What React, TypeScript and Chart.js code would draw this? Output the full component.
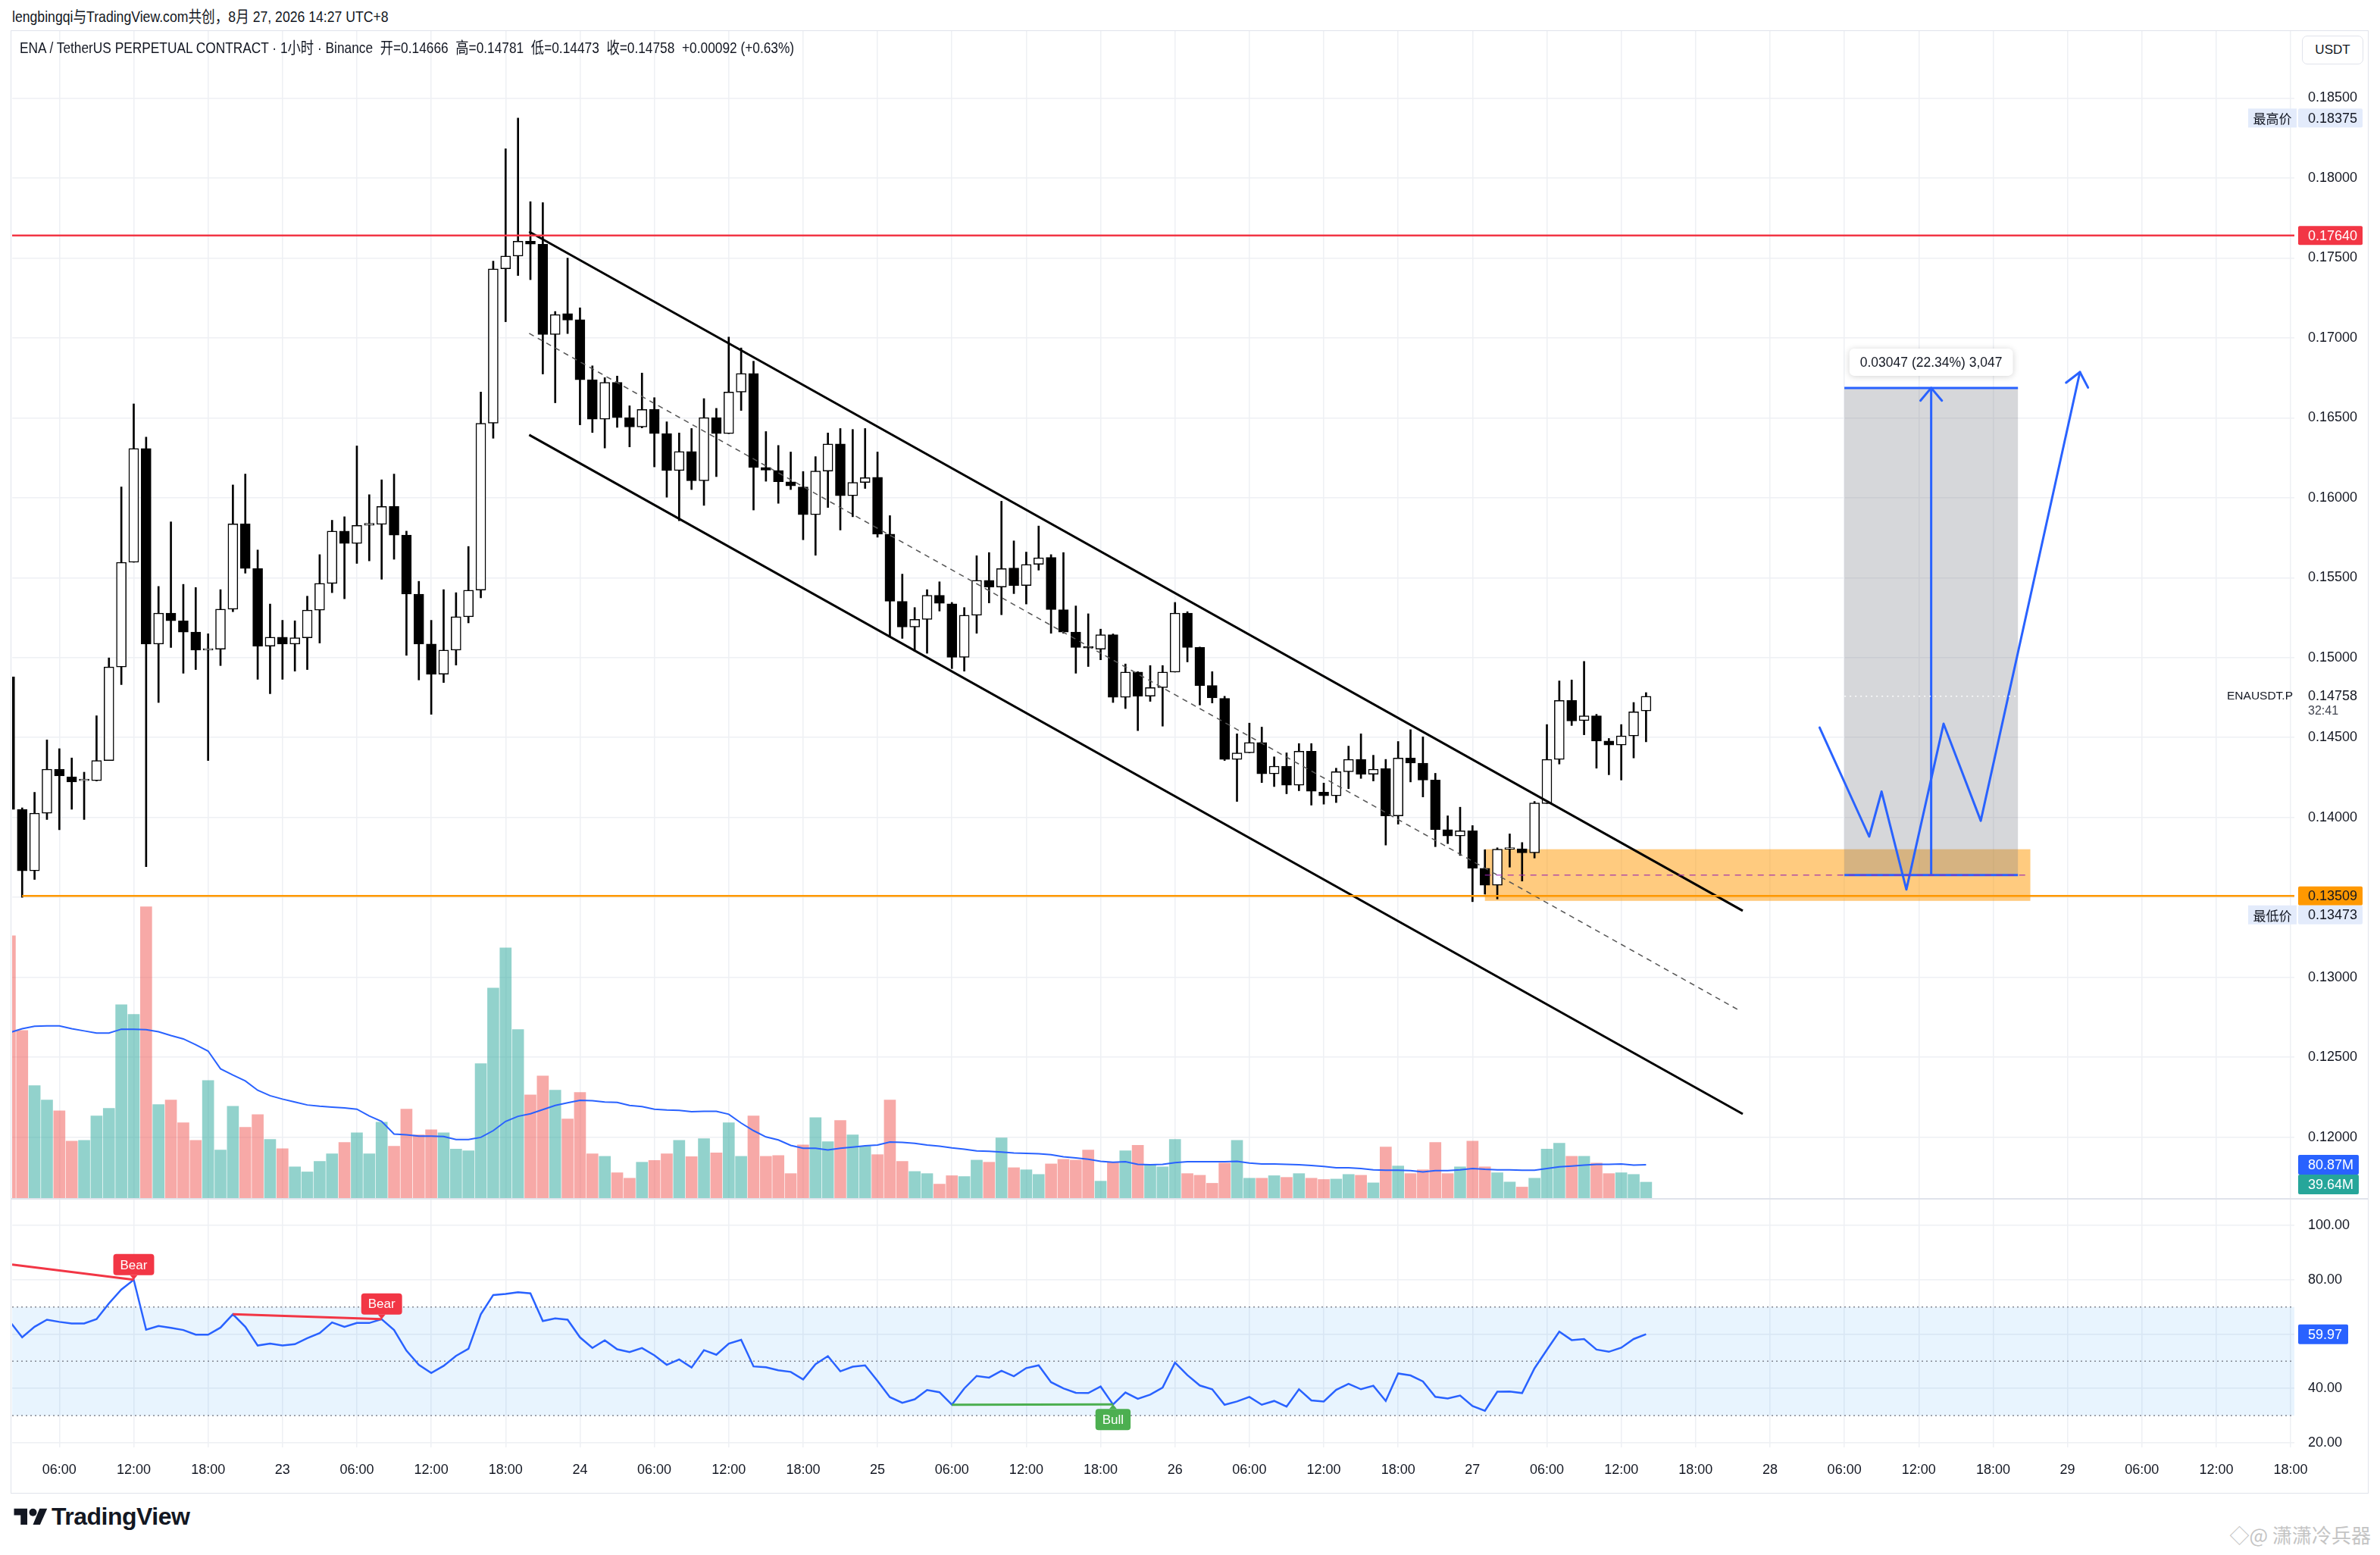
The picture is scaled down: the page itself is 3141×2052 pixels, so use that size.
import React, { useEffect, useRef } from 'react';
import { Chart, registerables } from 'chart.js';

Chart.register(...registerables);

const FONT = "'Liberation Sans', 'Noto Sans CJK SC', sans-serif";
const CJK_FONT = "'Noto Sans CJK SC', 'Liberation Sans', sans-serif";
const TEXT = '#131722';
const GRID = '#eef0f4';
const AXIS_W = 98;
const AXIS_FONT = 18;

// ---- x axis (hours, index 1 = 22 Aug 03:00) ----
const X_MIN = 0.19;
const X_MAX = 184.3;
const X_TICKS = [4, 10, 16, 22, 28, 34, 40, 46, 52, 58, 64, 70, 76, 82, 88, 94, 100, 106, 112, 118, 124, 130, 136, 142, 148, 154, 160, 166, 172, 178, 184];
const X_TICK_LABELS = ['06:00', '12:00', '18:00', '23', '06:00', '12:00', '18:00', '24', '06:00', '12:00', '18:00', '25', '06:00', '12:00', '18:00', '26', '06:00', '12:00', '18:00', '27', '06:00', '12:00', '18:00', '28', '06:00', '12:00', '18:00', '29', '06:00', '12:00', '18:00'];

// ---- price axis ----
const PRICE_MIN = 0.11614;
const PRICE_MAX = 0.18924;
const PRICE_TICKS = [0.12, 0.125, 0.13, 0.135, 0.14, 0.145, 0.15, 0.155, 0.16, 0.165, 0.17, 0.175, 0.18, 0.185];
const VOL_MAX = 2776;
const RSI_MIN = 18.3;
const RSI_MAX = 109.8;
const RSI_TICKS = [20, 40, 60, 80, 100];

// ---- OHLC (1h candles) ----
const OPEN = [
  0.1488, 0.1405, 0.13666, 0.14026, 0.14302, 0.14254, 0.1423, 0.1423, 0.14356, 0.14941,
  0.15596, 0.16308, 0.15085, 0.15278, 0.1523, 0.15159, 0.15047, 0.15053, 0.15303, 0.15836,
  0.15557, 0.15072, 0.15127, 0.15085, 0.15124, 0.15297, 0.15464, 0.15791, 0.15714, 0.15827,
  0.15833, 0.15945, 0.15766, 0.15397, 0.15085, 0.14896, 0.15047, 0.15255, 0.15422, 0.16466,
  0.17432, 0.17512, 0.17605, 0.17586, 0.17021, 0.17152, 0.17114, 0.16738, 0.16491, 0.16722,
  0.16501, 0.16443, 0.16552, 0.16401, 0.1617, 0.16289, 0.16106, 0.16501, 0.16401, 0.16661,
  0.16777, 0.16189, 0.1617, 0.161, 0.16067, 0.15894, 0.16167, 0.16337, 0.16013, 0.16096,
  0.16128, 0.15772, 0.15352, 0.15191, 0.15239, 0.1539, 0.15336, 0.15002, 0.15265, 0.15483,
  0.15441, 0.1556, 0.15451, 0.15583, 0.15627, 0.153, 0.15159, 0.15063, 0.15053, 0.15143,
  0.14751, 0.14909, 0.14758, 0.14812, 0.14909, 0.15278, 0.15063, 0.14825, 0.14745, 0.14363,
  0.14404, 0.14469, 0.14273, 0.14321, 0.14202, 0.14414, 0.14158, 0.14135, 0.14286, 0.14363,
  0.1427, 0.14305, 0.1401, 0.14372, 0.1434, 0.14234, 0.13923, 0.13884, 0.13916, 0.13682,
  0.13576, 0.13801, 0.13804, 0.13778, 0.14087, 0.14363, 0.14732, 0.14606, 0.14636, 0.14478,
  0.14453, 0.1451, 0.14666,
];
const HIGH = [
  0.1492, 0.1406, 0.14157, 0.14485, 0.1443, 0.14372, 0.14283, 0.14636, 0.14998, 0.16068,
  0.16587, 0.16379, 0.15445, 0.15849, 0.15458, 0.15438, 0.15149, 0.15425, 0.1608, 0.16148,
  0.15673, 0.15335, 0.15233, 0.1523, 0.15384, 0.15644, 0.15859, 0.15881, 0.16324, 0.16019,
  0.16112, 0.16148, 0.15791, 0.15477, 0.15233, 0.15425, 0.15406, 0.15695, 0.16661, 0.1748,
  0.18183, 0.18375, 0.17852, 0.17846, 0.17165, 0.17499, 0.17188, 0.16825, 0.16751, 0.16761,
  0.16575, 0.1678, 0.16626, 0.16475, 0.16405, 0.16433, 0.1662, 0.16559, 0.17005, 0.16937,
  0.16854, 0.16414, 0.16327, 0.16286, 0.16164, 0.16257, 0.16405, 0.16433, 0.16427, 0.16433,
  0.16286, 0.15888, 0.15522, 0.15313, 0.15425, 0.15474, 0.15345, 0.15313, 0.15637, 0.15657,
  0.15978, 0.1573, 0.1566, 0.15823, 0.15644, 0.15657, 0.15323, 0.15274, 0.15178, 0.15148,
  0.1496, 0.14912, 0.1495, 0.1495, 0.15345, 0.15287, 0.15066, 0.14912, 0.14758, 0.14523,
  0.1459, 0.14565, 0.14379, 0.14404, 0.14462, 0.14462, 0.14215, 0.14308, 0.14446, 0.14523,
  0.14389, 0.14363, 0.14475, 0.14549, 0.14504, 0.14276, 0.1401, 0.14064, 0.13949, 0.13798,
  0.1381, 0.13897, 0.13843, 0.141, 0.14581, 0.14854, 0.1486, 0.14976, 0.14645, 0.14494,
  0.14581, 0.14719, 0.14781,
];
const LOW = [
  0.14, 0.135, 0.13612, 0.13987, 0.13923, 0.14051, 0.13987, 0.14228, 0.14356, 0.14831,
  0.15596, 0.13692, 0.14719, 0.15063, 0.14902, 0.14925, 0.14356, 0.1495, 0.15287, 0.15528,
  0.14864, 0.14774, 0.14864, 0.14915, 0.14925, 0.15091, 0.15406, 0.15368, 0.15589, 0.15605,
  0.1549, 0.15615, 0.15014, 0.1486, 0.14645, 0.14844, 0.14953, 0.15217, 0.15374, 0.16372,
  0.17101, 0.1739, 0.17364, 0.16774, 0.16594, 0.17027, 0.16456, 0.16408, 0.16311, 0.1644,
  0.16318, 0.16437, 0.16193, 0.16003, 0.15856, 0.16051, 0.15952, 0.16132, 0.16401, 0.16546,
  0.15923, 0.16103, 0.15965, 0.16051, 0.15737, 0.1564, 0.15939, 0.15798, 0.15881, 0.16058,
  0.15753, 0.15133, 0.1512, 0.1504, 0.15027, 0.15291, 0.14931, 0.14915, 0.15152, 0.15342,
  0.15268, 0.154, 0.15335, 0.15547, 0.15152, 0.15152, 0.14902, 0.14944, 0.14986, 0.14719,
  0.14681, 0.14543, 0.14726, 0.14571, 0.14909, 0.14973, 0.14703, 0.14716, 0.14356, 0.141,
  0.14404, 0.14218, 0.14193, 0.14148, 0.14167, 0.14077, 0.14083, 0.14093, 0.1418, 0.14244,
  0.14228, 0.13827, 0.13958, 0.14222, 0.14128, 0.13817, 0.13836, 0.13762, 0.13473, 0.1352,
  0.1349, 0.13689, 0.13602, 0.13746, 0.14087, 0.14334, 0.14575, 0.14517, 0.14308, 0.14267,
  0.14234, 0.14372, 0.14473,
];
const CLOSE = [
  0.1405, 0.13666, 0.14026, 0.14302, 0.1426, 0.14222, 0.1424, 0.14356, 0.14941, 0.15596,
  0.16308, 0.15085, 0.15278, 0.1523, 0.15159, 0.15047, 0.15053, 0.15303, 0.15836, 0.15557,
  0.15072, 0.15127, 0.15085, 0.15124, 0.15297, 0.15464, 0.15791, 0.15714, 0.15827, 0.1584,
  0.15945, 0.15766, 0.15397, 0.15085, 0.14896, 0.15047, 0.15255, 0.15422, 0.16466, 0.17432,
  0.17512, 0.17605, 0.17586, 0.17021, 0.17146, 0.17111, 0.16738, 0.16491, 0.16722, 0.16501,
  0.16443, 0.16552, 0.16401, 0.1617, 0.16289, 0.16106, 0.16501, 0.16401, 0.16661, 0.16777,
  0.16189, 0.16173, 0.161, 0.16074, 0.15894, 0.16167, 0.16337, 0.16013, 0.16096, 0.16125,
  0.15772, 0.15352, 0.15191, 0.15239, 0.1539, 0.15339, 0.15002, 0.15265, 0.15483, 0.15441,
  0.15557, 0.15451, 0.15583, 0.15624, 0.153, 0.15159, 0.15063, 0.1506, 0.15143, 0.14751,
  0.14909, 0.14758, 0.14812, 0.14909, 0.15278, 0.15063, 0.14825, 0.14748, 0.14363, 0.14404,
  0.14469, 0.14273, 0.14321, 0.14202, 0.14414, 0.14164, 0.14135, 0.14286, 0.14363, 0.1427,
  0.14302, 0.1401, 0.14372, 0.1434, 0.14234, 0.13923, 0.13884, 0.13916, 0.13682, 0.13576,
  0.13801, 0.13804, 0.13778, 0.1409, 0.14363, 0.14732, 0.14603, 0.14636, 0.14478, 0.14453,
  0.1451, 0.14661, 0.14758,
];
// ---- volume (M) and its moving average ----
const VOLUME = [
  625, 400, 269, 235, 209, 137, 139, 197, 215, 461,
  438, 694, 224, 235, 181, 139, 281, 116, 220, 170,
  200, 141, 119, 76, 64, 89, 107, 134, 157, 107,
  182, 125, 213, 152, 164, 157, 118, 114, 321, 501,
  596, 402, 247, 292, 258, 190, 253, 107, 101, 62,
  49, 87, 91, 107, 139, 100, 143, 109, 181, 101,
  197, 101, 103, 60, 128, 193, 136, 186, 152, 125,
  105, 235, 89, 65, 60, 35, 55, 53, 92, 87,
  145, 74, 69, 58, 83, 94, 92, 116, 42, 87,
  114, 127, 82, 76, 141, 60, 56, 37, 85, 139,
  49, 49, 55, 51, 60, 49, 46, 47, 58, 56,
  38, 123, 78, 60, 69, 134, 60, 76, 137, 76,
  62, 40, 28, 49, 118, 132, 101, 101, 85, 60,
  62, 58, 39.64,
];
const VOL_MA = [
  395, 404, 410, 411, 411, 404, 399, 394, 394, 403,
  403, 402, 397, 388, 380, 366, 351, 309, 294, 280,
  258, 245, 237, 230, 223, 220, 218, 216, 213, 197,
  184, 154, 152, 149, 149, 148, 141, 141, 146, 162,
  184, 196, 202, 212, 222, 228, 234, 233, 230, 229,
  222, 219, 213, 211, 210, 207, 208, 208, 201, 180,
  162, 147, 140, 127, 120, 120, 116, 120, 123, 126,
  128, 135, 134, 132, 128, 125, 121, 118, 114, 113,
  111, 109, 108, 107, 105, 100, 97, 94, 89, 87,
  88, 82, 81, 82, 86, 88, 88, 88, 88, 89,
  85, 83, 83, 82, 81, 79, 77, 74, 74, 72,
  69, 68, 68, 67, 64, 67, 67, 69, 72, 70,
  69, 69, 68, 68, 72, 76, 78, 80, 82, 82,
  83, 80, 80.87,
];
// ---- RSI ----
const RSI = [
  64.7, 58.8, 62.7, 65.3, 64.5, 63.9, 63.9, 65.5, 71.3, 76.4,
  80.0, 61.6, 63.0, 62.3, 61.5, 59.8, 59.8, 62.4, 67.3, 62.7,
  55.8, 56.5, 55.8, 56.3, 58.5, 60.4, 64.3, 62.7, 64.1, 64.1,
  65.5, 61.5, 53.9, 48.7, 45.7, 48.3, 52.0, 54.6, 67.3, 74.4,
  74.8, 75.4, 75.0, 64.8, 65.8, 65.3, 58.8, 54.9, 57.7, 54.4,
  53.4, 54.9, 52.2, 48.7, 50.7, 47.7, 54.1, 52.4, 56.5, 57.9,
  48.1, 47.8, 46.7, 46.1, 43.3, 48.9, 51.9, 46.3, 48.0, 48.5,
  42.8, 36.8, 34.7, 36.0, 39.4, 38.6, 34.0, 40.0, 44.6, 44.0,
  46.5, 44.5, 47.5, 48.5, 42.3, 40.0, 38.4, 38.3, 40.7, 34.1,
  38.5, 36.2, 37.7, 40.3, 49.5, 44.9, 41.1, 39.7, 34.0, 35.2,
  36.9, 34.0, 35.4, 33.3, 39.7, 35.6, 35.2, 39.5, 41.7, 39.7,
  41.0, 35.4, 45.5, 44.8, 42.6, 36.9, 36.3, 37.4, 33.5, 31.8,
  38.8, 38.9, 38.3, 47.4, 54.2, 60.9, 57.8, 58.2, 54.3, 53.5,
  55.0, 58.2, 59.97,
];
const RSI_UPPER = 70;
const RSI_MID = 50;
const RSI_LOWER = 30;

// ---- drawings ----
const RESISTANCE = 0.1764;
const SUPPORT = 0.13509;
const SUPPORT_START = 1;
const CHANNEL_X = [41.9, 139.8];
const CHANNEL_UPPER = [0.17664, 0.13416];
const CHANNEL_LOWER = [0.16393, 0.12145];
const CHANNEL_MID_X = [41.9, 139.56];
const CHANNEL_MID = [0.17028, 0.12791];
const ZONE_X = [119, 163];
const ZONE_Y = [0.13478, 0.13801];
const ZONE_MID = 0.1364;
const BOX_X = [148, 162];
const BOX_Y = [0.1364, 0.16687];
const BOX_ARROW_X = 155;
const MEASURE_LABEL = '0.03047 (22.34%) 3,047';
const PATH_X = [146, 150, 151, 153, 156, 159, 167];
const PATH_Y = [0.14562, 0.1388, 0.14162, 0.13549, 0.14586, 0.13979, 0.16786];
const LAST_PRICE = 0.14758;
const HIGH_MARK = 0.18375;
const LOW_MARK = 0.13473;
const VOL_MA_LAST = 80.87;
const VOL_LAST = 39.64;
const RSI_LAST = 59.97;
const BEAR1_X = [0.19, 10];
const BEAR1_Y = [85.6, 80.0];
const BEAR2_X = [18, 30];
const BEAR2_Y = [67.3, 65.5];
const BULL_X = [76, 89];
const BULL_Y = [34.0, 34.1];

const pts = (xs: number[], ys: number[]) => xs.map((x, i) => ({ x, y: ys[i] }));

function lineDs(xs: number[], ys: number[], color: string, width: number, extra: any = {}) {
  return {
    type: 'line',
    data: pts(xs, ys),
    borderColor: color,
    borderWidth: width,
    pointRadius: 0,
    tension: 0,
    fill: false,
    order: 1,
    yAxisID: 'y',
    ...extra,
  };
}

function arrowHead(ctx: any, x0: number, y0: number, x1: number, y1: number, len: number, color: string, width: number) {
  const ang = Math.atan2(y1 - y0, x1 - x0);
  ctx.save();
  ctx.strokeStyle = color;
  ctx.lineWidth = width;
  ctx.lineCap = 'round';
  ctx.lineJoin = 'round';
  ctx.beginPath();
  ctx.moveTo(x1 + len * Math.cos(ang + Math.PI - 0.7), y1 + len * Math.sin(ang + Math.PI - 0.7));
  ctx.lineTo(x1, y1);
  ctx.lineTo(x1 + len * Math.cos(ang + Math.PI + 0.7), y1 + len * Math.sin(ang + Math.PI + 0.7));
  ctx.stroke();
  ctx.restore();
}

function badge(ctx: any, x0: number, x1: number, yc: number, h: number, bg: string, fg: string, text: string, tx: number) {
  ctx.save();
  ctx.fillStyle = bg;
  ctx.beginPath();
  ctx.roundRect(x0, yc - h / 2, x1 - x0, h, 2);
  ctx.fill();
  ctx.fillStyle = fg;
  ctx.font = `${AXIS_FONT}px ${FONT}`;
  ctx.textAlign = 'left';
  ctx.textBaseline = 'middle';
  ctx.fillText(text, tx, yc + 1);
  ctx.restore();
}

function tag(ctx: any, cx: number, py: number, text: string, color: string, above: boolean) {
  ctx.save();
  ctx.font = `17px ${FONT}`;
  const w = ctx.measureText(text).width + 18;
  const h = 28;
  const top = above ? py - 6 - h : py + 6;
  ctx.fillStyle = color;
  ctx.beginPath();
  ctx.roundRect(cx - w / 2, top, w, h, 4);
  ctx.fill();
  ctx.beginPath();
  if (above) {
    ctx.moveTo(cx - 5, top + h);
    ctx.lineTo(cx, top + h + 6);
    ctx.lineTo(cx + 5, top + h);
  } else {
    ctx.moveTo(cx - 5, top);
    ctx.lineTo(cx, top - 6);
    ctx.lineTo(cx + 5, top);
  }
  ctx.fill();
  ctx.fillStyle = '#ffffff';
  ctx.textAlign = 'center';
  ctx.textBaseline = 'middle';
  ctx.fillText(text, cx, top + h / 2 + 1);
  ctx.restore();
}

const pricePlugin = {
  id: 'priceOverlay',
  beforeDatasetsDraw(chart: any) {
    const { ctx, chartArea: a } = chart;
    const x = chart.scales.x;
    const y = chart.scales.y;
    ctx.save();
    ctx.beginPath();
    ctx.rect(a.left, a.top, a.right - a.left, a.bottom - a.top);
    ctx.clip();
    const zx0 = x.getPixelForValue(ZONE_X[0]);
    const zx1 = x.getPixelForValue(ZONE_X[1]);
    const zy0 = y.getPixelForValue(ZONE_Y[1]);
    const zy1 = y.getPixelForValue(ZONE_Y[0]);
    ctx.fillStyle = 'rgba(255,152,0,0.5)';
    ctx.fillRect(zx0, zy0, zx1 - zx0, zy1 - zy0);
    const bx0 = x.getPixelForValue(BOX_X[0]);
    const bx1 = x.getPixelForValue(BOX_X[1]);
    const by0 = y.getPixelForValue(BOX_Y[1]);
    const by1 = y.getPixelForValue(BOX_Y[0]);
    ctx.fillStyle = 'rgba(120,123,134,0.3)';
    ctx.fillRect(bx0, by0, bx1 - bx0, by1 - by0);
    ctx.restore();
  },
  afterDatasetsDraw(chart: any) {
    const { ctx, chartArea: a } = chart;
    const x = chart.scales.x;
    const y = chart.scales.y;
    ctx.save();
    ctx.beginPath();
    ctx.rect(a.left, a.top, a.right - a.left, a.bottom - a.top);
    ctx.clip();
    ctx.strokeStyle = 'rgba(156,39,176,0.75)';
    ctx.lineWidth = 1.5;
    ctx.setLineDash([8, 7]);
    ctx.beginPath();
    const ym = y.getPixelForValue(ZONE_MID);
    ctx.moveTo(x.getPixelForValue(ZONE_X[0]), ym);
    ctx.lineTo(x.getPixelForValue(ZONE_X[1]), ym);
    ctx.stroke();
    ctx.strokeStyle = 'rgba(255,255,255,0.95)';
    ctx.setLineDash([2, 5]);
    const yl = y.getPixelForValue(LAST_PRICE);
    ctx.beginPath();
    ctx.moveTo(x.getPixelForValue(BOX_X[0]), yl);
    ctx.lineTo(x.getPixelForValue(BOX_X[1]), yl);
    ctx.stroke();
    ctx.setLineDash([]);
    ctx.restore();
    const n = PATH_X.length;
    arrowHead(ctx, x.getPixelForValue(PATH_X[n - 2]), y.getPixelForValue(PATH_Y[n - 2]), x.getPixelForValue(PATH_X[n - 1]), y.getPixelForValue(PATH_Y[n - 1]), 23, '#2962ff', 3);
    const ax = x.getPixelForValue(BOX_ARROW_X);
    arrowHead(ctx, ax, y.getPixelForValue(BOX_Y[0]), ax, y.getPixelForValue(BOX_Y[1]), 22, '#2962ff', 3);
    const ly = y.getPixelForValue(BOX_Y[1]) - 34;
    ctx.save();
    ctx.font = `17.5px ${FONT}`;
    const tw = ctx.measureText(MEASURE_LABEL).width;
    const w = tw + 28;
    const h = 36;
    ctx.shadowColor = 'rgba(0,0,0,0.18)';
    ctx.shadowBlur = 8;
    ctx.shadowOffsetY = 1;
    ctx.fillStyle = '#ffffff';
    ctx.beginPath();
    ctx.roundRect(ax - w / 2, ly - h / 2, w, h, 6);
    ctx.fill();
    ctx.shadowColor = 'transparent';
    ctx.fillStyle = TEXT;
    ctx.textAlign = 'center';
    ctx.textBaseline = 'middle';
    ctx.fillText(MEASURE_LABEL, ax, ly + 1);
    ctx.restore();
  },
  afterDraw(chart: any) {
    const { ctx, chartArea: a } = chart;
    const y = chart.scales.y;
    const yv = chart.scales.yv;
    const L = a.right + 5;
    const R = a.right + 90;
    const T = a.right + 18;
    const yl = y.getPixelForValue(LAST_PRICE);
    ctx.save();
    ctx.fillStyle = TEXT;
    ctx.font = `15.5px ${FONT}`;
    ctx.textAlign = 'right';
    ctx.textBaseline = 'middle';
    ctx.fillText('ENAUSDT.P', a.right - 2, yl);
    ctx.textAlign = 'left';
    ctx.font = `${AXIS_FONT}px ${FONT}`;
    ctx.fillText(LAST_PRICE.toFixed(5), T, yl);
    ctx.font = `16px ${FONT}`;
    ctx.fillStyle = '#434651';
    ctx.fillText('32:41', T, yl + 20);
    ctx.restore();
    badge(ctx, L, R, y.getPixelForValue(RESISTANCE), 25, '#f23645', '#ffffff', RESISTANCE.toFixed(5), T);
    const ys = y.getPixelForValue(SUPPORT);
    badge(ctx, L, R, ys, 25, '#ff9800', '#131722', SUPPORT.toFixed(5), T);
    const hiY = y.getPixelForValue(HIGH_MARK);
    const loY = ys + 25;
    [[hiY, HIGH_MARK, '最高价'], [loY, LOW_MARK, '最低价']].forEach(([yy, v, lab]: any) => {
      badge(ctx, L, R, yy, 25, '#e3ebfb', TEXT, v.toFixed(5), T);
      ctx.save();
      ctx.fillStyle = '#e3ebfb';
      ctx.fillRect(a.right - 61, yy - 12.5, 64, 25);
      ctx.fillStyle = TEXT;
      ctx.font = `17px ${CJK_FONT}`;
      ctx.textAlign = 'center';
      ctx.textBaseline = 'middle';
      ctx.fillText(lab, a.right - 29, yy + 1);
      ctx.restore();
    });
    const vy = yv.getPixelForValue(VOL_MA_LAST);
    badge(ctx, L, R - 5, vy, 26, '#2962ff', '#ffffff', `${VOL_MA_LAST.toFixed(2)}M`, T);
    badge(ctx, L, R - 5, vy + 26, 26, '#26a69a', '#ffffff', `${VOL_LAST.toFixed(2)}M`, T);
  },
};

const rsiPlugin = {
  id: 'rsiOverlay',
  beforeDatasetsDraw(chart: any) {
    const { ctx, chartArea: a } = chart;
    const y = chart.scales.y;
    const y70 = y.getPixelForValue(RSI_UPPER);
    const y30 = y.getPixelForValue(RSI_LOWER);
    const y50 = y.getPixelForValue(RSI_MID);
    ctx.save();
    ctx.fillStyle = 'rgba(33,150,243,0.1)';
    ctx.fillRect(a.left, y70, a.right - a.left, y30 - y70);
    ctx.strokeStyle = 'rgba(120,123,134,0.9)';
    ctx.lineWidth = 1.5;
    ctx.setLineDash([2, 4]);
    [y70, y50, y30].forEach((yy) => {
      ctx.beginPath();
      ctx.moveTo(a.left, yy);
      ctx.lineTo(a.right, yy);
      ctx.stroke();
    });
    ctx.restore();
  },
  afterDatasetsDraw(chart: any) {
    const { ctx } = chart;
    const x = chart.scales.x;
    const y = chart.scales.y;
    tag(ctx, x.getPixelForValue(BEAR1_X[1]), y.getPixelForValue(BEAR1_Y[1]), 'Bear', '#f23645', true);
    tag(ctx, x.getPixelForValue(BEAR2_X[1]), y.getPixelForValue(BEAR2_Y[1]), 'Bear', '#f23645', true);
    tag(ctx, x.getPixelForValue(BULL_X[1]), y.getPixelForValue(BULL_Y[1]), 'Bull', '#4caf50', false);
  },
  afterDraw(chart: any) {
    const { ctx, chartArea: a } = chart;
    const y = chart.scales.y;
    badge(ctx, a.right + 5, a.right + 71, y.getPixelForValue(RSI_LAST), 26, '#2962ff', '#ffffff', RSI_LAST.toFixed(2), a.right + 18);
  },
};

function xScale(showLabels: boolean) {
  return {
    type: 'linear',
    min: X_MIN,
    max: X_MAX,
    offset: false,
    grid: { color: GRID, drawTicks: false, offset: false, lineWidth: 1.5 },
    border: { display: false },
    ticks: {
      display: showLabels,
      autoSkip: false,
      maxRotation: 0,
      color: TEXT,
      font: { family: FONT, size: AXIS_FONT },
      padding: 19,
      callback: (v: number) => {
        const k = X_TICKS.indexOf(v);
        return k >= 0 ? X_TICK_LABELS[k] : '';
      },
    },
    afterBuildTicks: (s: any) => {
      s.ticks = X_TICKS.map((v) => ({ value: v }));
    },
    afterFit: (s: any) => {
      s.height = showLabels ? 60 : 0;
      s.paddingLeft = 0;
      s.paddingRight = 0;
      s.paddingTop = 0;
      s.paddingBottom = 0;
    },
  };
}

function yScale(min: number, max: number, ticks: number[], digits: number) {
  return {
    type: 'linear',
    position: 'right',
    min,
    max,
    grid: { color: GRID, drawTicks: false, lineWidth: 1.5 },
    border: { display: false },
    ticks: {
      color: TEXT,
      font: { family: FONT, size: AXIS_FONT },
      padding: 18,
      callback: (v: number) => Number(v).toFixed(digits),
    },
    afterBuildTicks: (s: any) => {
      s.ticks = ticks.map((v) => ({ value: v }));
    },
    afterFit: (s: any) => {
      s.width = AXIS_W;
      s.paddingTop = 0;
      s.paddingBottom = 0;
    },
  };
}

function PriceChart() {
  const ref = useRef<HTMLCanvasElement>(null);
  useEffect(() => {
    const idx = OPEN.map((_, i) => i);
    const up = idx.map((i) => CLOSE[i] >= OPEN[i]);
    const chart = new Chart(ref.current as HTMLCanvasElement, {
      type: 'bar',
      data: {
        datasets: [
          {
            type: 'bar',
            data: idx.map((i) => ({ x: i, y: VOLUME[i] })),
            yAxisID: 'yv',
            backgroundColor: idx.map((i) => (up[i] ? 'rgba(38,166,154,0.5)' : 'rgba(239,83,80,0.5)')),
            borderWidth: 0,
            barThickness: 15,
            grouped: false,
            order: 20,
          },
          {
            type: 'line',
            data: idx.map((i) => ({ x: i, y: VOL_MA[i] })),
            yAxisID: 'yv',
            borderColor: '#2962ff',
            borderWidth: 2,
            pointRadius: 0,
            tension: 0,
            order: 15,
          },
          {
            type: 'bar',
            data: idx.map((i) => ({ x: i, y: [LOW[i], HIGH[i]] })),
            yAxisID: 'y',
            backgroundColor: '#000000',
            borderWidth: 0,
            barThickness: 2,
            grouped: false,
            order: 5,
          },
          {
            type: 'bar',
            data: idx.map((i) => ({ x: i, y: [OPEN[i], CLOSE[i]] })),
            yAxisID: 'y',
            backgroundColor: idx.map((i) => (up[i] ? '#ffffff' : '#000000')),
            borderColor: '#000000',
            borderWidth: 1.5,
            borderSkipped: false,
            barThickness: 13,
            minBarLength: 2,
            grouped: false,
            order: 4,
          },
          lineDs([X_MIN, X_MAX], [RESISTANCE, RESISTANCE], '#f23645', 2.5),
          lineDs([SUPPORT_START, X_MAX], [SUPPORT, SUPPORT], '#ff9800', 2.5),
          lineDs(CHANNEL_X, CHANNEL_UPPER, '#000000', 3),
          lineDs(CHANNEL_X, CHANNEL_LOWER, '#000000', 3),
          lineDs(CHANNEL_MID_X, CHANNEL_MID, '#555555', 1.5, { borderDash: [7, 6] }),
          lineDs(BOX_X, [BOX_Y[1], BOX_Y[1]], '#2962ff', 3),
          lineDs(BOX_X, [BOX_Y[0], BOX_Y[0]], '#2962ff', 3),
          lineDs([BOX_ARROW_X, BOX_ARROW_X], BOX_Y, '#2962ff', 3),
          lineDs(PATH_X, PATH_Y, '#2962ff', 3, { borderJoinStyle: 'round', borderCapStyle: 'round' }),
        ],
      },
      options: {
        responsive: true,
        maintainAspectRatio: false,
        animation: false,
        events: [],
        layout: { padding: 0, autoPadding: false },
        plugins: { legend: { display: false }, tooltip: { enabled: false } },
        scales: {
          x: xScale(false),
          y: yScale(PRICE_MIN, PRICE_MAX, PRICE_TICKS, 5),
          yv: { type: 'linear', display: false, min: 0, max: VOL_MAX },
        },
      },
      plugins: [pricePlugin],
    } as any);
    return () => chart.destroy();
  }, []);
  return <canvas ref={ref} />;
}

function RsiChart() {
  const ref = useRef<HTMLCanvasElement>(null);
  useEffect(() => {
    const idx = RSI.map((_, i) => i);
    const chart = new Chart(ref.current as HTMLCanvasElement, {
      type: 'line',
      data: {
        datasets: [
          {
            data: idx.map((i) => ({ x: i, y: RSI[i] })),
            borderColor: '#2962ff',
            borderWidth: 2.5,
            pointRadius: 0,
            tension: 0,
            order: 2,
          },
          lineDs(BEAR1_X, BEAR1_Y, '#f23645', 3),
          lineDs(BEAR2_X, BEAR2_Y, '#f23645', 3),
          lineDs(BULL_X, BULL_Y, '#4caf50', 3),
        ],
      },
      options: {
        responsive: true,
        maintainAspectRatio: false,
        animation: false,
        events: [],
        layout: { padding: 0, autoPadding: false },
        plugins: { legend: { display: false }, tooltip: { enabled: false } },
        scales: {
          x: xScale(true),
          y: yScale(RSI_MIN, RSI_MAX, RSI_TICKS, 2),
        },
      },
      plugins: [rsiPlugin],
    } as any);
    return () => chart.destroy();
  }, []);
  return <canvas ref={ref} />;
}

function Logo() {
  return (
    <svg width="46" height="30" viewBox="0 0 36 24">
      <path d="M14 20H7V10H0V3h14v17z" fill="#131722" />
      <circle cx="20" cy="7" r="4" fill="#131722" />
      <path d="M27 3h8l-7.5 17H20z" fill="#131722" />
    </svg>
  );
}

export default function App() {
  return (
    <div style={{ position: 'absolute', left: 0, top: 0, width: 3141, height: 2052, background: '#ffffff', overflow: 'hidden', fontFamily: FONT, color: TEXT }}>
      <div style={{ position: 'absolute', left: 16, top: 40, width: 3110, height: 1542 }}>
        <PriceChart />
      </div>
      <div style={{ position: 'absolute', left: 16, top: 1582, width: 3110, height: 388 }}>
        <RsiChart />
      </div>
      <div style={{ position: 'absolute', left: 14, top: 40, width: 3112, height: 1931, border: '1.5px solid #e0e3eb', boxSizing: 'border-box', pointerEvents: 'none' }} />
      <div style={{ position: 'absolute', left: 14, top: 1581, width: 3112, height: 2, background: '#e0e3eb' }} />
      <div style={{ position: 'absolute', left: 16, top: 9, fontSize: 21, lineHeight: '26px', whiteSpace: 'nowrap', transform: 'scaleX(0.84)', transformOrigin: 'left center' }}>
        lengbingqi与TradingView.com共创，8月 27, 2026 14:27 UTC+8
      </div>
      <div style={{ position: 'absolute', left: 26, top: 50, fontSize: 21, lineHeight: '26px', whiteSpace: 'nowrap', transform: 'scaleX(0.824)', transformOrigin: 'left center' }}>
        ENA / TetherUS PERPETUAL CONTRACT · 1小时 · Binance&nbsp;&nbsp;开=0.14666&nbsp;&nbsp;高=0.14781&nbsp;&nbsp;低=0.14473&nbsp;&nbsp;收=0.14758&nbsp;&nbsp;+0.00092 (+0.63%)
      </div>
      <div style={{ position: 'absolute', left: 3038, top: 47, width: 81, height: 38, border: '1.5px solid #e0e3eb', borderRadius: 7, boxSizing: 'border-box', display: 'flex', alignItems: 'center', justifyContent: 'center', fontSize: 17, background: '#fff' }}>
        USDT
      </div>
      <div style={{ position: 'absolute', left: 18, top: 1983, display: 'flex', alignItems: 'center', gap: 4 }}>
        <Logo />
        <span style={{ fontFamily: "'Liberation Sans', sans-serif", fontWeight: 700, fontSize: 32, letterSpacing: -0.5 }}>TradingView</span>
      </div>
      <div style={{ position: 'absolute', right: 12, top: 2006, fontFamily: CJK_FONT, fontSize: 26, color: '#c4c4c4', whiteSpace: 'nowrap' }}>
        ◇@ 潇潇冷兵器
      </div>
    </div>
  );
}
